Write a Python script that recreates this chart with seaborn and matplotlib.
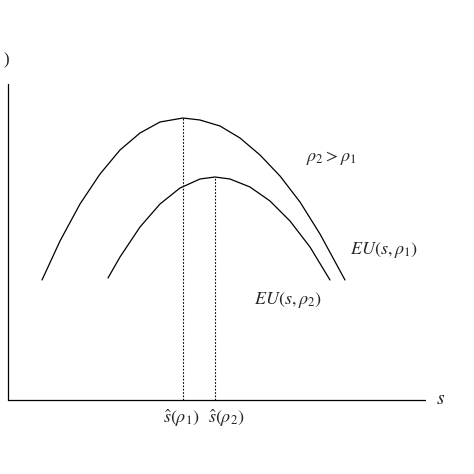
import matplotlib
matplotlib.use("Agg")
import matplotlib.pyplot as plt
import seaborn as sns
import pandas as pd

x_hi = [42, 60, 80, 100, 120, 140, 160, 183, 200, 220, 240, 260, 280, 300, 320, 345]
y_hi = [194, 233, 270, 300, 324, 341, 352, 356, 354, 348, 336, 319, 298, 272, 240, 194]
x_lo = [108, 120, 140, 160, 180, 200, 215, 230, 250, 270, 290, 310, 330]
y_lo = [196, 217, 247, 270, 286, 295, 297, 295, 287, 273, 253, 227, 194]
s_hat = [183, 215]
peaks = [356, 297]

sns.set_style("white")
plt.rcParams["font.family"] = ["Liberation Serif", "DejaVu Serif"]
plt.rcParams["mathtext.fontset"] = "stix"

fig = plt.figure(figsize=(4.74, 4.74), dpi=100)
ax = fig.add_axes([0, 0, 1, 1])
ax.set_xlim(0, 474)
ax.set_ylim(0, 474)
ax.axis("off")

df = pd.concat([
    pd.DataFrame({"x": x_hi, "y": y_hi, "c": "hi"}),
    pd.DataFrame({"x": x_lo, "y": y_lo, "c": "lo"}),
])
sns.lineplot(data=df, x="x", y="y", units="c", estimator=None, color="black",
             lw=0.9, ax=ax, sort=False)

# dotted drop lines at the maxima
for xs, ys in zip(s_hat, peaks):
    ax.plot([xs, xs], [74, ys], color="black", ls=(0, (1.5, 1.5)), lw=0.8)

# axes
ax.plot([8, 8], [74, 390], color="black", lw=0.9)
ax.plot([8, 425], [74, 74], color="black", lw=0.9)

ax.text(3, 414, ")", fontsize=12, va="center")
ax.text(436, 74, r"$s$", fontsize=14, va="center")
ax.text(306, 316, r"$\rho_2 > \rho_1$", fontsize=13, va="center")
ax.text(350, 224, r"$EU(s,\rho_1)$", fontsize=13, va="center")
ax.text(254, 174, r"$EU(s,\rho_2)$", fontsize=13, va="center")
ax.text(181, 56, r"$\hat{s}(\rho_1)$", fontsize=13, ha="center", va="center")
ax.text(226, 56, r"$\hat{s}(\rho_2)$", fontsize=13, ha="center", va="center")

fig.savefig("out.png", dpi=100)
